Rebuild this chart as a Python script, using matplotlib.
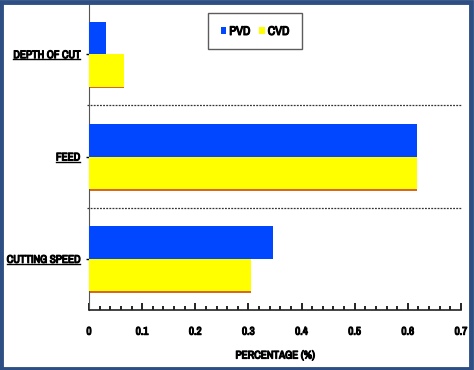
import numpy as np
import matplotlib
matplotlib.use('Agg')
import matplotlib.pyplot as plt
import matplotlib.patheffects as pe
from matplotlib import font_manager
from matplotlib.font_manager import FontProperties
from matplotlib.ticker import MultipleLocator
from matplotlib.patches import Rectangle

categories = ['DEPTH OF CUT', 'FEED', 'CUTTING SPEED']
pvd = [0.032, 0.618, 0.346]
cvd = [0.066, 0.617, 0.305]
xticks = [0, 0.1, 0.2, 0.3, 0.4, 0.5, 0.6, 0.7]


# a narrow face (Liberation Sans Narrow) made heavier with a stroke
def find_narrow():
    for f in font_manager.fontManager.ttflist:
        fn = f.fname
        if 'Narrow' in f.name and 'Italic' not in fn:
            return fn
    return None


path = find_narrow()
if path:
    fs = 8.0
    fp = FontProperties(fname=path, size=fs)
    fx = [pe.withStroke(linewidth=0.8, foreground='black')]
else:
    fs = 7.2
    fp = FontProperties(family='DejaVu Sans', weight='bold', size=fs)
    fx = []

fig = plt.figure(figsize=(4.74, 3.70), dpi=100)
ax = fig.add_axes([89 / 474, 60 / 370, 372 / 474, 307 / 370])

bar_h = 0.317
y = np.arange(len(categories))
ax.barh(y - bar_h / 2, pvd, bar_h, color='#0047ff', label='PVD', zorder=3)
ax.barh(y + bar_h / 2, cvd, bar_h, color='#ffff00', label='CVD', zorder=3)
# thin orange shadow under the yellow bars
ax.barh(y + bar_h + 0.008, cvd, 0.016, color='#d9662a', zorder=2)

ax.set_xlim(0, 0.7)
ax.set_ylim(len(categories) - 0.5, -0.5)
ax.set_xticks(xticks)
ax.set_xticklabels([f'{t:g}' for t in xticks])
for lab in ax.get_xticklabels():
    lab.set_fontproperties(fp)
    lab.set_path_effects(fx)
ax.xaxis.set_minor_locator(MultipleLocator(0.02))
ax.tick_params(axis='x', which='major', direction='in', length=5, width=1.2, pad=12)
ax.tick_params(axis='x', which='minor', direction='in', length=3, width=1.2)

ax.set_yticks(y)
ax.set_yticklabels(categories)
for lab in ax.get_yticklabels():
    lab.set_fontproperties(fp)
    lab.set_path_effects(fx)
ax.tick_params(axis='y', direction='out', length=2, width=1, pad=4.5)

# dotted separators between categories
for b in y[:-1] + 0.5:
    ax.axhline(b, xmin=-0.006, xmax=1.002, color='#333333', lw=0.9,
               ls=(0, (1.5, 1)), clip_on=False, zorder=1)

for s in ['top', 'right']:
    ax.spines[s].set_visible(False)
ax.spines['left'].set_color('#555555')
ax.spines['bottom'].set_color('#222222')
ax.spines['bottom'].set_linewidth(1.2)

xl = ax.set_xlabel('PERCENTAGE (%)', fontproperties=fp, labelpad=10)
xl.set_path_effects(fx)

# underline category labels
fig.canvas.draw()
r = fig.canvas.get_renderer()
for lab in ax.get_yticklabels():
    bb = lab.get_window_extent(r)
    x0, x1 = bb.x0 / 474, bb.x1 / 474
    yy = (bb.y0 + 1) / 370
    fig.add_artist(plt.Line2D([x0, x1], [yy, yy], color='black', lw=1))

leg = ax.legend(loc='upper left', bbox_to_anchor=(0.320, 0.966), ncol=2,
                frameon=True, fancybox=False, edgecolor='#333333',
                handlelength=0.45, handleheight=0.45, handletextpad=0.25,
                columnspacing=0.7, borderpad=1.0, borderaxespad=0,
                prop=FontProperties(fname=path, size=fs + 1) if path
                else {'weight': 'bold', 'size': fs})
leg.get_frame().set_linewidth(1)
for t in leg.get_texts():
    t.set_path_effects(fx)

# dark blue frame around the picture
fig.add_artist(Rectangle((0.003, 0.004), 0.991, 0.99, transform=fig.transFigure,
                         fill=False, edgecolor='#2d4f84', lw=3.5))

fig.savefig('out.png', dpi=100)
